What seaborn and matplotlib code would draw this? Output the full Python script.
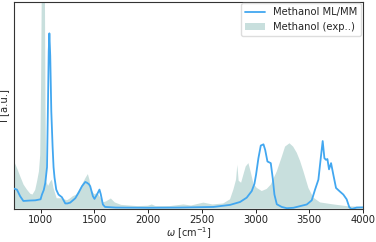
import numpy as np
import pandas as pd
import matplotlib
matplotlib.use("Agg")
import matplotlib.pyplot as plt
import seaborn as sns

# ML/MM spectrum
ml_omega = [750, 780, 810, 840, 870, 900, 950, 1000, 1013, 1030, 1044, 1060, 1068, 1076, 1082,
            1090, 1100, 1112, 1121, 1130, 1146, 1167, 1199, 1230, 1250, 1276, 1323, 1354, 1385,
            1416, 1432, 1450, 1462, 1487, 1502, 1524, 1548, 1560, 1580, 1600, 1700, 2000, 2300,
            2608, 2763, 2856, 2918, 2965, 2990, 3005, 3027, 3049, 3074, 3090, 3111, 3142, 3160,
            3176, 3198, 3244, 3291, 3353, 3415, 3477, 3523, 3554, 3585, 3607, 3625, 3641, 3656,
            3669, 3684, 3703, 3724, 3749, 3780, 3817, 3848, 3873, 3895, 3941, 4000]
ml_int = [0.097, 0.092, 0.06, 0.037, 0.038, 0.039, 0.04, 0.045, 0.068, 0.09, 0.124, 0.2, 0.47,
          0.76, 0.848, 0.74, 0.47, 0.3, 0.2, 0.15, 0.092, 0.068, 0.055, 0.025, 0.025, 0.029, 0.05,
          0.077, 0.108, 0.129, 0.125, 0.118, 0.108, 0.06, 0.047, 0.067, 0.092, 0.07, 0.02, 0.008,
          0.005, 0.004, 0.005, 0.008, 0.018, 0.032, 0.053, 0.085, 0.12, 0.164, 0.244, 0.305,
          0.311, 0.284, 0.228, 0.22, 0.148, 0.068, 0.021, 0.008, 0.002, 0.004, 0.012, 0.02, 0.04,
          0.092, 0.14, 0.244, 0.327, 0.244, 0.236, 0.24, 0.19, 0.22, 0.164, 0.1, 0.085, 0.068,
          0.045, 0.006, -0.002, 0.005, 0.006]

# Experimental spectrum
exp_omega = [753, 781, 811, 842, 873, 904, 925, 950, 967, 985, 997, 1005, 1012, 1020, 1030,
             1040, 1046, 1053, 1070, 1090, 1106, 1120, 1150, 1199, 1245, 1276, 1300, 1330, 1370,
             1400, 1420, 1440, 1455, 1470, 1500, 1530, 1560, 1580, 1610, 1654, 1690, 1750, 1900,
             2000, 2035, 2070, 2200, 2330, 2400, 2515, 2600, 2700, 2763, 2794, 2819, 2831, 2843,
             2866, 2887, 2909, 2934, 2956, 2981, 3012, 3058, 3104, 3142, 3198, 3244, 3275, 3316,
             3350, 3384, 3415, 3446, 3492, 3539, 3600, 3700, 3756, 3850, 4000]
exp_int = [0.23, 0.196, 0.156, 0.116, 0.092, 0.072, 0.068, 0.09, 0.13, 0.18, 0.26, 0.6, 1.1, 1.4,
           1.4, 1.1, 0.5, 0.13, 0.11, 0.13, 0.14, 0.1, 0.05, 0.05, 0.04, 0.05, 0.06, 0.067, 0.1,
           0.13, 0.15, 0.167, 0.14, 0.09, 0.07, 0.075, 0.05, 0.03, 0.035, 0.049, 0.03, 0.018,
           0.012, 0.014, 0.02, 0.012, 0.012, 0.02, 0.015, 0.029, 0.02, 0.025, 0.045, 0.092, 0.14,
           0.212, 0.135, 0.125, 0.164, 0.204, 0.22, 0.176, 0.12, 0.1, 0.085, 0.095, 0.116, 0.18,
           0.25, 0.3, 0.316, 0.3, 0.27, 0.23, 0.18, 0.1, 0.053, 0.03, 0.022, 0.018, 0.012, 0.008]

x_ticks = [1000, 1500, 2000, 2500, 3000, 3500, 4000]

sns.set_theme(style="ticks")
plt.rcParams['font.family'] = ['DejaVu Sans']

fig = plt.figure(figsize=(3.76, 2.42), dpi=100)
ax = fig.add_axes([0.0364, 0.138, 0.9290, 0.854])

ml_df = pd.DataFrame({"omega": ml_omega, "I": ml_int})
sns.lineplot(data=ml_df, x="omega", y="I", ax=ax, color="#42a7f0", lw=1.3,
             label="Methanol ML/MM", zorder=3)
ax.fill_between(exp_omega, exp_int, 0, color="#c8dfdd", lw=0, label="Methanol (exp..)", zorder=1)

ax.set_xlim(750, 4000)
ax.set_ylim(0, 1.0)
ax.set_xticks(x_ticks)
ax.set_xticklabels([str(t) for t in x_ticks], fontsize=7.2)
ax.set_yticks([])
ax.tick_params(axis="x", length=3, width=0.7, pad=1.5, colors="#222222")
for s in ax.spines.values():
    s.set_color("#333333")
    s.set_linewidth(0.8)
ax.set_xlabel(r"$\omega$ [cm$^{-1}$]", fontsize=7.0, labelpad=0.3)
ax.set_ylabel("I [a.u.]", fontsize=7.2, labelpad=3)
ax.legend(loc="upper right", fontsize=7.2, frameon=True, borderaxespad=0.15,
          handlelength=2.0, framealpha=1, edgecolor="#dddddd")

fig.savefig("out.png", dpi=100)
